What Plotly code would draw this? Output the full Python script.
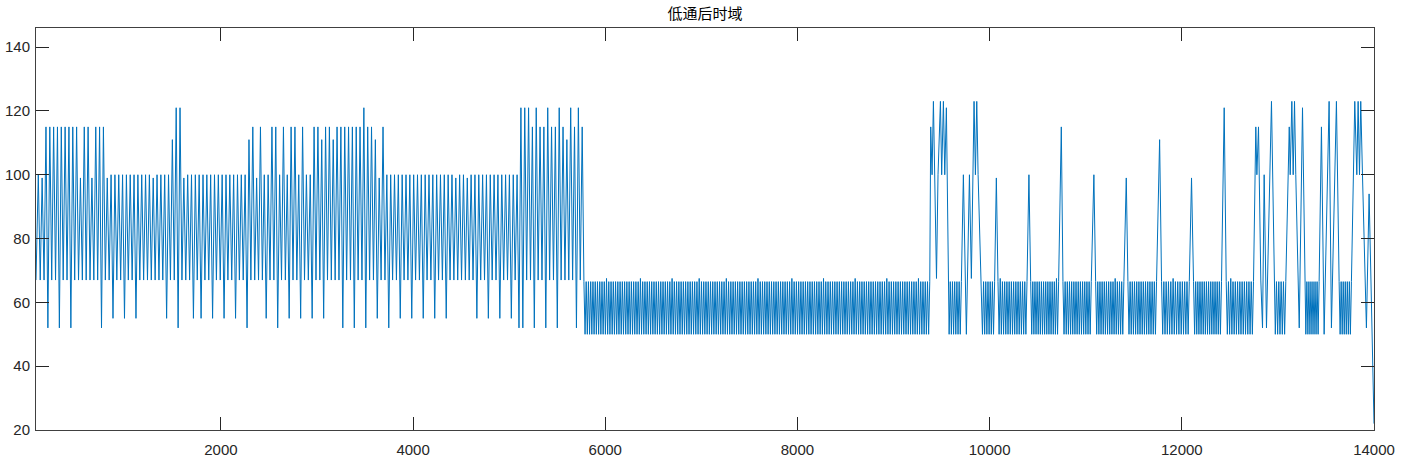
import plotly.graph_objects as go

TITLE = "低通后时域"
X_TICKS = [2000, 4000, 6000, 8000, 10000, 12000, 14000]
Y_TICKS = [20, 40, 60, 80, 100, 120, 140]
X_RANGE = [76, 14000]
Y_RANGE = [20, 146]

# ---- segment 1 (x ~ 100..5760): one high + one low per ~40-sample cycle ----
SEG1_START_POINT = (76, 67)
SEG1_FIRST_X, SEG1_LAST_X, SEG1_N_HIGHS = 100, 5760, 143
SEG1_HI_BASE, SEG1_LO_BASE = 100, 67
seg1_hi_x = [140, 180, 217, 259, 301, 339, 381, 419, 461, 498, 537, 578, 620, 661,
             700, 737, 779, 817, 1296, 1497, 1535, 1574, 1615, 2294, 2333, 2374, 2412,
             2533, 2572, 2651, 2731, 2773, 2849, 2970, 3009, 3050, 3088, 3129, 3171,
             3209, 3251, 3290, 3331, 3369, 3410, 3449, 3490, 3529, 3570, 3608, 3649,
             3688, 4444, 4565, 5123, 5165, 5203, 5243, 5282, 5324, 5362, 5404, 5442,
             5482, 5521, 5562, 5601, 5643, 5682, 5719, 5760]
seg1_hi_v = [99, 115, 115, 115, 115, 115, 115, 115, 115, 115, 99, 115, 115, 99,
             115, 115, 115, 99, 99, 111, 121, 121, 99, 111, 115, 99, 115,
             115, 115, 115, 115, 115, 115, 115, 115, 111, 115, 115, 111,
             115, 115, 115, 115, 115, 115, 115, 121, 115, 115, 111, 99,
             115, 99, 99, 121, 121, 121, 115, 121, 115, 115, 121, 115,
             115, 121, 115, 111, 121, 115, 121, 115]
seg1_lo_x = [197, 318, 436, 755, 1556, 2273, 2593, 3269, 3389, 3508, 3747, 5105, 5144,
             5258, 5380, 5497, 5702,
             880, 997, 1116, 1434, 1715, 1795, 1913, 2031, 2152, 2474, 2713, 2832, 2949,
             3071, 3629, 3868, 3986, 4107, 4229, 4348, 4665, 4783, 4907, 5024]
seg1_lo_v = [52] * 17 + [55] * 24

# ---- segments 2/3: fast oscillation between 50 and 66.5 (~24-sample cycle) ----
OSC_HI, OSC_LO, OSC_PERIOD = 66.5, 50, 23.6
osc_runs = [(5778, 9377), (9567, 9706), (9914, 10052), (10087, 10389), (10427, 10718),
            (10763, 11058), (11103, 11397), (11439, 11737), (11789, 12078),
            (12122, 12413), (12462, 12746), (12961, 13082), (13280, 13429),
            (13637, 13765)]
osc_bump_x = [6017, 6361, 6694, 6975, 7266, 7589, 7932, 8260, 8590, 8920, 9250,
              9520, 10120, 10700, 11300, 11900, 12500]
OSC_BUMP = 67.5

# isolated peaks / bursts between oscillation runs (segment 3)
peak_x = [9387, 9401, 9415, 9447, 9463, 9488, 9501, 9519, 9533, 9550,
          9727, 9758, 9790, 9810, 9838, 9852, 9866, 9880,
          10070, 10409, 10746, 11085, 11422, 11769, 12101, 12441,
          12770, 12781, 12798, 12822, 12840, 12857, 12881, 12933,
          13118, 13128, 13145, 13159, 13173, 13186, 13222, 13256,
          13453, 13481, 13533, 13557, 13609,
          13800, 13821, 13835, 13849, 13862, 13880, 13921, 13949, 13976, 14000]
peak_y = [115, 100, 123, 67.5, 100, 123, 100, 123, 100, 121,
          100, 50, 100, 67.5, 123, 100, 123, 100,
          99, 100, 115, 100, 99, 111, 99, 121,
          115, 100, 115, 67, 52, 100, 52, 123,
          115, 100, 123, 100, 123, 100, 52, 121,
          115, 50, 123, 52, 123,
          123, 100, 123, 100, 123, 100, 52, 94, 55, 22]

LINE_COLOR = "#0072BD"


def build_series():
    xs, ys = [SEG1_START_POINT[0]], [SEG1_START_POINT[1]]
    n = SEG1_N_HIGHS
    p1 = (SEG1_LAST_X - SEG1_FIRST_X) / (n - 1)
    hi = [SEG1_HI_BASE] * n
    lo = [SEG1_LO_BASE] * (n - 1)
    for x, v in zip(seg1_hi_x, seg1_hi_v):
        hi[int(round((x - SEG1_FIRST_X) / p1))] = v
    for x, v in zip(seg1_lo_x, seg1_lo_v):
        lo[int(round((x - SEG1_FIRST_X - p1 / 2) / p1))] = v
    for k in range(n):
        xs.append(SEG1_FIRST_X + k * p1)
        ys.append(hi[k])
        if k < n - 1:
            xs.append(SEG1_FIRST_X + (k + 0.5) * p1)
            ys.append(lo[k])

    pts = []
    for a, b in osc_runs:
        m = max(2, int(round((b - a) / (OSC_PERIOD / 2))))
        if m % 2:
            m += 1
        step = (b - a) / m
        for i in range(m + 1):
            pts.append([a + i * step, OSC_HI if i % 2 == 0 else OSC_LO])
    for bx in osc_bump_x:
        best = min((p for p in pts if p[1] == OSC_HI), key=lambda p: abs(p[0] - bx))
        best[1] = OSC_BUMP
    pts += [[x, y] for x, y in zip(peak_x, peak_y)]
    pts.sort(key=lambda p: p[0])
    xs += [p[0] for p in pts]
    ys += [p[1] for p in pts]
    return xs, ys


xs, ys = build_series()

fig = go.Figure()
fig.add_trace(go.Scatter(x=xs, y=ys, mode="lines",
                         line=dict(color=LINE_COLOR, width=1), hoverinfo="skip"))

axis_common = dict(showline=True, linecolor="#404040", linewidth=1, mirror="ticks",
                   ticks="inside", ticklen=13, tickwidth=1, tickcolor="#262626",
                   showgrid=False, zeroline=False, automargin=False,
                   tickfont=dict(family="Arial, Liberation Sans, sans-serif", size=15,
                                 color="#262626"))
fig.update_xaxes(range=X_RANGE, tickvals=X_TICKS, ticktext=[str(v) for v in X_TICKS],
                 ticklabelstandoff=6, **axis_common)
fig.update_yaxes(range=Y_RANGE, tickvals=Y_TICKS, ticktext=[str(v) for v in Y_TICKS],
                 ticklabelstandoff=2, **axis_common)
fig.update_layout(
    width=1411, height=469,
    margin=dict(l=36, r=37, t=28, b=39),
    paper_bgcolor="white", plot_bgcolor="white",
    showlegend=False,
    title=dict(text=TITLE, x=705 / 1411, xanchor="center", y=1 - 14 / 469,
               yanchor="middle", yref="container",
               font=dict(family="Noto Sans CJK SC", size=15, color="#000000")),
)
fig.write_html("out.html", config={"displayModeBar": False},
               post_script="document.body.style.margin='0';")
